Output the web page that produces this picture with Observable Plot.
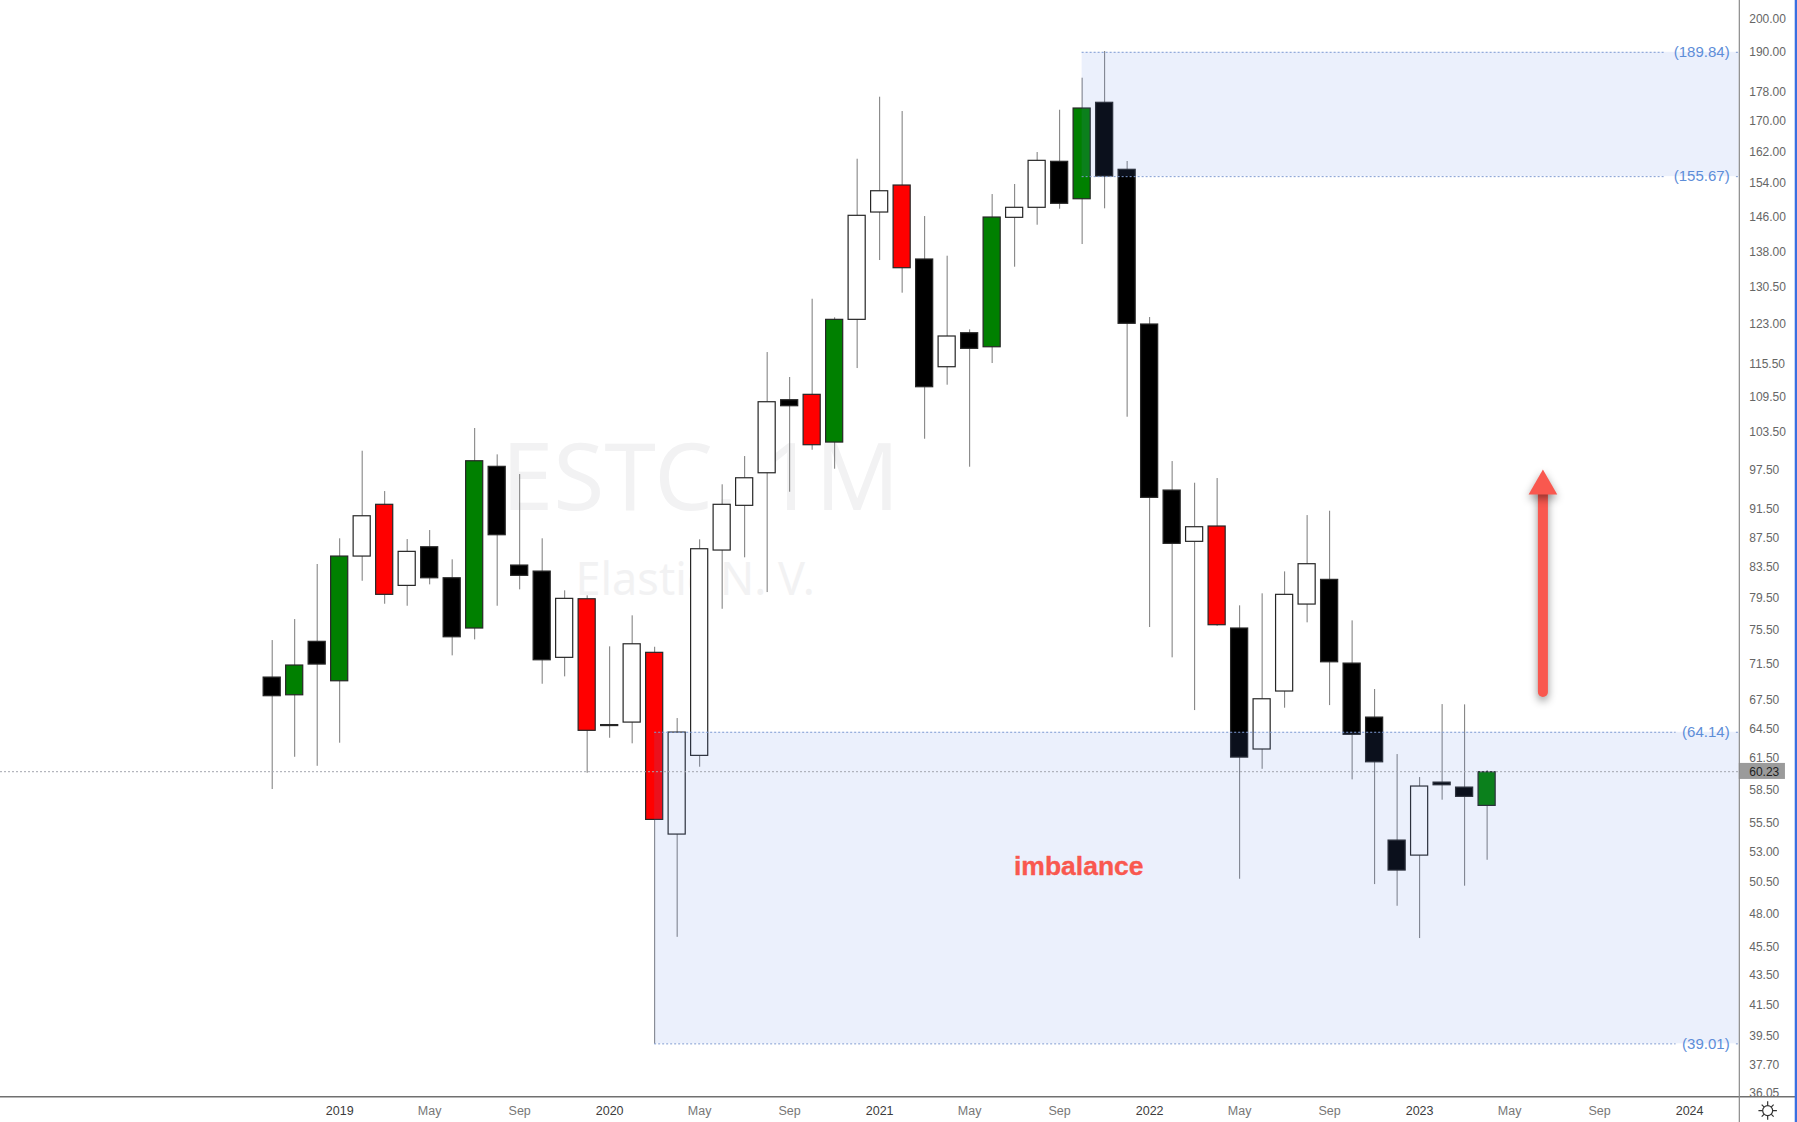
<!doctype html>
<html><head><meta charset="utf-8">
<script src="https://cdn.jsdelivr.net/npm/d3@7"></script>
<script src="https://cdn.jsdelivr.net/npm/@observablehq/plot@0.6"></script>
<style>
html,body{margin:0;padding:0;background:#fff;overflow:hidden}
svg{display:block}
.arrow-shadow{filter:drop-shadow(0 4px 4px rgba(0,0,0,.42))}
</style></head>
<body><div id="chart"></div>
<script>
const high=[74.25,76.78,83.83,87.34,100.44,94.18,87.24,88.50,84.46,104.15,99.86,96.77,87.34,80.38,79.74,73.51,77.24,73.46,65.56,87.20,95.20,99.59,117.57,112.98,128.01,124.27,160.06,176.71,172.72,146.07,137.11,121.91,151.29,153.73,161.78,173.08,182.15,190.08,159.48,124.33,98.80,95.44,96.16,78.48,80.00,82.85,90.64,91.27,76.62,68.67,61.90,59.67,67.04,67.01,60.34];
const bodyTop=[69.99,71.35,74.10,84.90,90.54,92.21,85.54,86.17,82.01,98.85,97.97,83.69,82.89,79.36,79.31,64.88,73.81,72.81,64.11,85.90,92.21,96.20,108.61,108.96,109.90,123.87,146.24,152.09,153.48,136.39,120.62,121.25,145.84,148.12,159.65,159.40,173.55,175.14,157.38,122.95,94.33,88.97,89.07,75.69,67.61,79.87,83.87,81.80,71.57,65.66,53.96,58.82,59.19,58.72,60.18];
const bodyBottom=[67.94,68.04,71.46,69.58,84.90,79.87,81.02,82.01,74.64,75.69,87.84,82.33,71.95,72.23,64.29,64.78,65.14,55.77,54.48,61.77,85.72,92.06,96.97,107.92,101.41,101.84,123.87,147.01,134.51,111.24,114.85,118.27,118.57,145.77,148.12,149.07,150.16,155.70,123.09,93.24,86.64,86.92,76.09,61.60,62.40,68.45,78.64,71.72,63.88,61.14,51.44,52.68,58.94,57.86,57.03];
const low=[58.54,61.63,60.75,63.03,81.62,78.68,78.43,81.15,72.46,74.33,78.43,80.51,69.25,70.07,60.08,63.53,62.97,38.99,46.24,60.66,78.05,84.73,80.16,94.08,100.60,97.60,114.61,136.17,129.25,102.38,111.60,97.91,115.53,134.72,144.06,147.79,139.69,147.88,106.04,75.81,72.23,66.40,75.96,50.73,60.46,66.65,76.38,66.93,59.45,50.30,48.59,46.15,57.55,50.17,52.29];
const bodyFill=["black","green","black","green","white","red","white","black","black","green","black","black","black","white","red","black","white","red","white","white","white","white","white","black","red","green","white","white","red","black","white","black","green","white","white","black","green","black","black","black","black","white","red","black","white","white","white","black","black","black","black","white","black","black","green"];

const candles = high.map((h,i)=>({i,high:h,top:bodyTop[i],bottom:bodyBottom[i],low:low[i],fill:bodyFill[i]}));

const zoneStart=[36,17];
const zoneTop=[189.84,64.14];
const zoneBottom=[155.67,39.01];
const zoneLabelEnd=[61.93,62.4];
const lastPrice=60.23;

const priceTicks=[200,190,178,170,162,154,146,138,130.5,123,115.5,109.5,103.5,97.5,91.5,87.5,83.5,79.5,75.5,71.5,67.5,64.5,61.5,58.5,55.5,53,50.5,48,45.5,43.5,41.5,39.5,37.7,36.05];
const timeTickIndex=[3,7,11,15,19,23,27,31,35,39,43,47,51,55,59,63];
const timeTickLabels=["2019","May","Sep","2020","May","Sep","2021","May","Sep","2022","May","Sep","2023","May","Sep","2024"];

const xMin=-12.076,xMax=67.796,yMin=34.41,yMax=206.2;
const axisX=65.21,axisY=35.86,timeLabelY=35.07,labelRightX=64.78,tickLeftX=65.65,gearX=66.47,edgeX=67.73;
const zones=zoneStart.map((s,k)=>({s,top:zoneTop[k],bottom:zoneBottom[k],labelEnd:zoneLabelEnd[k]}));
const zoneEdges=zones.flatMap(z=>[{y:z.top,end:z.labelEnd},{y:z.bottom,end:z.labelEnd}].map(e=>({...e,s:z.s})));

const chart=Plot.plot({
  width:1797,height:1122,
  marginTop:0,marginRight:0,marginBottom:0,marginLeft:0,
  style:{background:"#fff",overflow:"hidden"},
  x:{domain:[xMin,xMax],range:[0,1797],axis:null},
  y:{type:"log",domain:[yMin,yMax],range:[1122,0],axis:null},
  marks:[
    Plot.text(["ESTC, 1M"],{x:()=>19.04,y:()=>95.85,text:d=>d,fill:"#f2f2f3",fontSize:93,fontFamily:"Noto Sans"}),
    Plot.text(["Elastic N. V."],{x:()=>18.8,y:()=>81.7,text:d=>d,fill:"#f2f2f3",fontSize:45,fontFamily:"Noto Sans"}),
    Plot.ruleX(candles,{x:"i",y1:"low",y2:"high",stroke:"#7a7a7a",strokeWidth:1}),
    Plot.rect(candles,{x1:d=>d.i-0.38,x2:d=>d.i+0.38,y1:"bottom",y2:"top",fill:d=>d.fill==="green"?"#008000":d.fill==="red"?"#ff0000":d.fill==="white"?"#ffffff":"#000000",stroke:"#262626",strokeWidth:1.2}),
    Plot.rect(zones,{x1:"s",x2:()=>axisX,y1:"bottom",y2:"top",fill:"#5a84e8",fillOpacity:0.12}),
    Plot.ruleY(zoneEdges,{y:"y",x1:"s",x2:"end",stroke:"#7f9bd2",strokeWidth:1,strokeDasharray:"2 2"}),
    Plot.ruleY(zoneEdges,{y:"y",x1:()=>65.08,x2:()=>axisX,stroke:"#7f9bd2",strokeWidth:1,strokeDasharray:"2 2"}),
    Plot.ruleY([lastPrice],{x1:()=>xMin,x2:()=>axisX,stroke:"#a3a6ae",strokeWidth:1,strokeDasharray:"2 2"}),
    Plot.text(zoneEdges,{x:()=>labelRightX,y:"y",text:d=>`(${d.y.toFixed(2)})`,textAnchor:"end",fill:"#5d8dd8",fontSize:15,fontFamily:"Liberation Sans"}),
    Plot.text(["imbalance"],{x:()=>35.85,y:()=>51.78,text:d=>d,fill:"#f9584f",stroke:"#f9584f",strokeWidth:0.35,fontSize:26.5,fontWeight:"bold",fontFamily:"Liberation Sans"}),
    Plot.ruleX([56.48],{x:d=>d,y1:()=>68.35,y2:()=>93.73,stroke:"#f9584f",strokeWidth:10,strokeLinecap:"round",className:"arrow-shadow"}),
    Plot.dot([56.48],{x:d=>d,y:()=>95.0,symbol:"triangle",r:10.65,fill:"#f9584f",stroke:"none",className:"arrow-shadow"}),
    Plot.text(priceTicks,{x:()=>tickLeftX,y:d=>d,text:d=>d.toFixed(2),textAnchor:"start",fill:"#666",fontSize:12,fontFamily:"Liberation Sans"}),
    Plot.rect([0],{x1:()=>axisX,x2:()=>67.26,y1:()=>59.49,y2:()=>61.03,fill:"#9b9b9b"}),
    Plot.text([lastPrice],{x:()=>tickLeftX,y:d=>d,text:d=>d.toFixed(2),textAnchor:"start",fill:"#1e1e1e",fontSize:12,fontFamily:"Liberation Sans"}),
    Plot.rect([0],{x1:()=>xMin,x2:()=>xMax,y1:()=>yMin,y2:()=>axisY,fill:"#fff"}),
    Plot.ruleY([axisY],{x1:()=>xMin,x2:()=>xMax,stroke:"#707070",strokeWidth:1.5}),
    Plot.ruleX([axisX],{y1:()=>yMin,y2:()=>yMax,stroke:"#8a8a8a",strokeWidth:1.2}),
    Plot.ruleX([edgeX],{y1:()=>yMin,y2:()=>yMax,stroke:"#3a6fe0",strokeWidth:2.6}),
    Plot.text(timeTickIndex,{x:d=>d,y:()=>timeLabelY,text:(d,i)=>timeTickLabels[i],
      fill:(d,i)=>/^\d/.test(timeTickLabels[i])?"#3c3c3c":"#777",
      fontWeight:(d,i)=>/^\d/.test(timeTickLabels[i])?"bold":"normal",
      fontSize:12.5,fontFamily:"Liberation Sans"}),
    Plot.dot([0],{x:()=>gearX,y:()=>timeLabelY,symbol:"plus",r:6,stroke:"#333",strokeWidth:1.2}),
    Plot.dot([0],{x:()=>gearX,y:()=>timeLabelY,symbol:"times",r:5.5,stroke:"#333",strokeWidth:1.2}),
    Plot.dot([0],{x:()=>gearX,y:()=>timeLabelY,symbol:"circle",r:5,fill:"#fff",stroke:"#333",strokeWidth:1.2})
  ]
});
document.getElementById("chart").append(chart);
</script></body></html>
